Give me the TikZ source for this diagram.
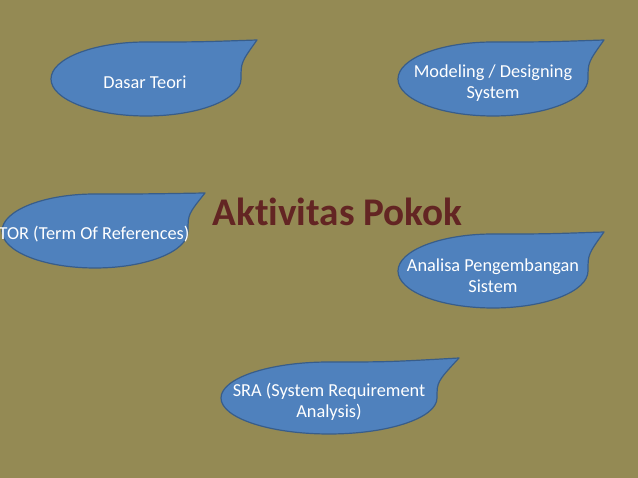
\documentclass[tikz,border=0pt]{standalone}
\usepackage{fontspec}
\setmainfont[Ligatures={NoCommon,NoContextual}]{Carlito}
\definecolor{bgolive}{HTML}{948A54}
\definecolor{leaffill}{HTML}{4F81BD}
\definecolor{leafline}{HTML}{385D8A}
\definecolor{titlered}{HTML}{632523}
\newcommand\leafshape[6]{%
  \draw[leaf] (#5,#6) .. controls ({#1+0.55*#3},{#2+#4}) .. (#1,{#2+#4})
    arc[start angle=90,end angle=360,x radius=#3pt,y radius=#4pt]
    .. controls ({#1+#3},{#2+0.45*#4}) .. cycle;}
\begin{document}
\begin{tikzpicture}[x=1pt,y=1pt,
  leaf/.style={fill=leaffill,draw=leafline,line width=1.2pt,line join=round},
  leaftext/.style={text=white,align=center,inner sep=0pt,font=\fontsize{18.3}{21}\selectfont},
  titletext/.style={text=titlered,inner sep=0pt,font=\fontsize{39.2}{46}\selectfont\bfseries}]
\fill[bgolive] (0,0) rectangle (638,478);
\useasboundingbox (0,0) rectangle (638,478);
\leafshape{146}{399}{95}{37}{257}{438}
\leafshape{493}{399}{95}{37}{604}{438}
\leafshape{95}{247}{93}{37}{205}{285}
\leafshape{493}{207}{95}{37}{604}{246}
\leafshape{329}{80}{108}{36}{459}{120}
\node[leaftext] (dasar) at (145,396) {Dasar Teori};
\node[leaftext] (model) at (493,394.5) {Modeling / Designing\\System};
\node[leaftext] (tor) at (94,244) {TOR (Term Of References)};
\node[leaftext] (analisa) at (493,202.5) {Analisa Pengembangan\\Sistem};
\node[leaftext] (sra) at (329,76.5) {SRA (System Requirement\\Analysis)};
\node[titletext] (title) at (337.5,266.5) {Aktivitas Pokok};
\end{tikzpicture}
\end{document}
